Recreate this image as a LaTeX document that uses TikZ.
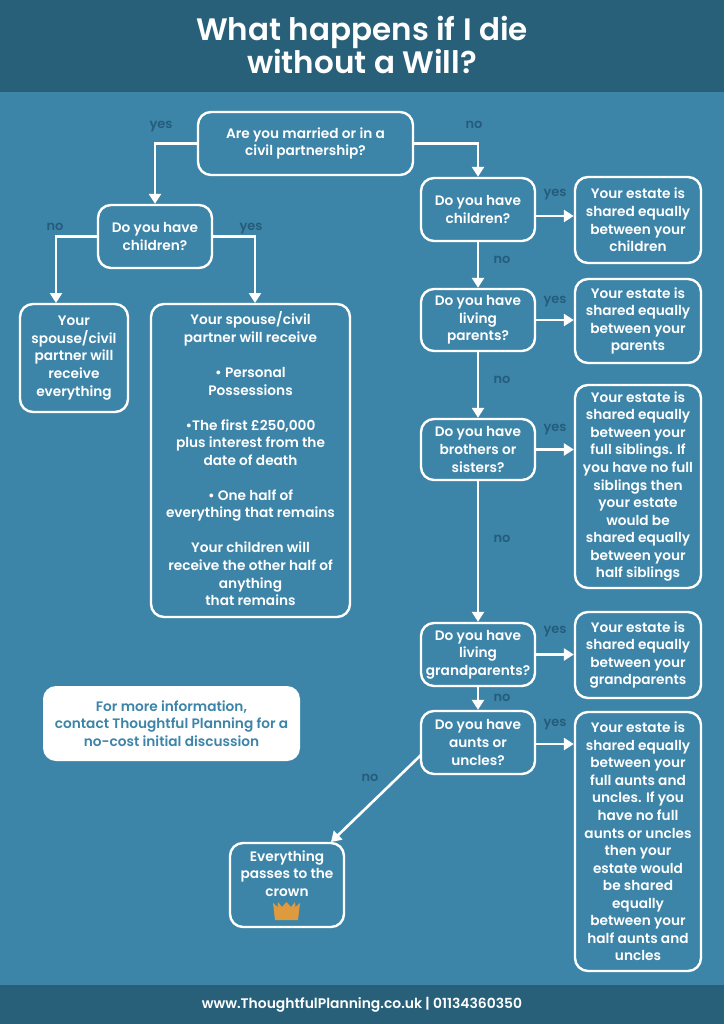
\documentclass[tikz,border=0pt]{standalone}
\usepackage{fontspec}
\setmainfont{Poppins}[BoldFont={Poppins SemiBold}]
\usetikzlibrary{arrows.meta}
\definecolor{pagebg}{HTML}{3D85A8}
\definecolor{bandbg}{HTML}{28607A}
\definecolor{lbl}{HTML}{245C7C}
\definecolor{crownc}{HTML}{DE9A3E}
\tikzset{
	qbox/.style={draw=white,line width=2.4pt,rounded corners=13pt,text=white,align=center,inner sep=0pt,
		font=\fontsize{13.7}{17.55}\selectfont\bfseries},
	lbl/.style={text=lbl,text height=9pt,text depth=3pt,font=\fontsize{13}{15}\selectfont\bfseries},
	arr/.style={white,line width=2.6pt,-{Triangle[width=12pt,length=10pt]}}
}
\begin{document}
\begin{tikzpicture}[x=1pt,y=-1pt]
	\useasboundingbox (0,0) rectangle (724,1024);
	\fill[pagebg] (0,0) rectangle (724,1024);
	\fill[bandbg] (0,0) rectangle (724,92);
	\fill[bandbg] (0,985) rectangle (724,1024);
	
	\node[text=white,align=center,font=\fontsize{31}{33}\selectfont\bfseries] (title) at (362,45) {What happens if I die\\without a Will?};
	\node[text=white,font=\fontsize{13.9}{15}\selectfont\bfseries] (web) at (362,1005) {www.ThoughtfulPlanning.co.uk | 01134360350};
	
	% left side
	\node[qbox,minimum width=215pt,minimum height=63pt] (married) at (305.5,143.5) {Are you married or in a\\civil partnership?};
	\node[qbox,minimum width=114pt,minimum height=63pt] (childl) at (155,236.5) {Do you have\\children?};
	\node[qbox,minimum width=108pt,minimum height=108pt] (spouse) at (74,358) {Your\\spouse/civil\\partner will\\receive\\everything};
	\node[qbox,minimum width=199pt,minimum height=313pt] (share) at (250.5,460.5) {Your spouse/civil\\partner will receive\\[17.55pt]• Personal\\Possessions\\[17.55pt]•The first £250,000\\plus interest from the\\date of death\\[17.55pt]• One half of\\everything that remains\\[17.55pt]Your children will\\receive the other half of\\anything\\that remains\\[-14pt]\mbox{}};
	\node[fill=white,rounded corners=13pt,minimum width=257pt,minimum height=75pt,text=pagebg,align=center,inner sep=0pt,font=\fontsize{13.7}{17.55}\selectfont\bfseries] (info) at (171.5,723.5) {For more information,\\contact Thoughtful Planning for a\\no-cost initial discussion};
	\node[qbox,minimum width=114pt,minimum height=84pt] (crown) at (287,885) {Everything\\passes to the\\crown\\[6pt]\mbox{}};
	\fill[crownc] (275,920) -- (273,903) -- (277.5,907) -- (278,902) -- (282,907) -- (286.5,902) -- (291,907) -- (295,902) -- (295.5,907) -- (300,903) -- (298,920) -- cycle;
	
	% right side, questions
	\node[qbox,minimum width=114pt,minimum height=63pt] (qchild) at (478,209.5) {Do you have\\children?};
	\node[qbox,minimum width=114pt,minimum height=62pt] (qpar) at (478,320) {Do you have\\living\\parents?};
	\node[qbox,minimum width=114pt,minimum height=61pt] (qbro) at (478,449.5) {Do you have\\brothers or\\sisters?};
	\node[qbox,minimum width=114pt,minimum height=63pt] (qgrand) at (478,654.5) {Do you have\\living\\grandparents?};
	\node[qbox,minimum width=114pt,minimum height=63pt] (qaunt) at (478,742.5) {Do you have\\aunts or\\uncles?};
	
	% right side, answers
	\node[qbox,minimum width=126pt,minimum height=86pt] (achild) at (638,220) {Your estate is\\shared equally\\between your\\children};
	\node[qbox,minimum width=126pt,minimum height=84pt] (apar) at (638,321) {Your estate is\\shared equally\\between your\\parents};
	\node[qbox,minimum width=126pt,minimum height=203pt] (abro) at (638,486.5) {Your estate is\\shared equally\\between your\\full siblings. If\\you have no full\\siblings then\\your estate\\would be\\shared equally\\between your\\half siblings};
	\node[qbox,minimum width=126pt,minimum height=86pt] (agrand) at (638,655) {Your estate is\\shared equally\\between your\\grandparents};
	\node[qbox,minimum width=126pt,minimum height=259pt] (aaunt) at (638,841.5) {Your estate is\\shared equally\\between your\\full aunts and\\uncles. If you\\have no full\\aunts or uncles\\then your\\estate would\\be shared\\equally\\between your\\half aunts and\\uncles};
	
	% free ends of the connectors
	\coordinate (spousetop) at (56,303);
	\coordinate (sharetop) at (255,303);
	\coordinate (auntout) at (421,755);
	\coordinate (crownin) at (331,842);
	\coordinate (qchildout) at (535,216);
	\coordinate (qauntout) at (535,744);
	
	\draw[arr] (married.west) -| (childl.north);
	\draw[arr] (married.east) -| (qchild.north);
	\draw[arr] (childl.west) -| (spousetop);
	\draw[arr] (childl.east) -| (sharetop);
	\draw[arr] (qchild) -- (qpar);
	\draw[arr] (qpar) -- (qbro);
	\draw[arr] (qbro) -- (qgrand);
	\draw[arr] (qgrand) -- (qaunt);
	\draw[arr] (qchildout) -- (achild.west |- qchildout);
	\draw[arr] (qpar.east) -- (apar.west |- qpar.east);
	\draw[arr] (qbro.east) -- (abro.west |- qbro.east);
	\draw[arr] (qgrand.east) -- (agrand.west |- qgrand.east);
	\draw[arr] (qauntout) -- (aaunt.west |- qauntout);
	\draw[arr] (auntout) -- (crownin);
	
	\node[lbl] (l1) at (161,126) {yes};
	\node[lbl] (l2) at (474,126) {no};
	\node[lbl] (l3) at (55,228) {no};
	\node[lbl] (l4) at (251,228) {yes};
	\node[lbl] (l5) at (555,194) {yes};
	\node[lbl] (l6) at (502,260) {no};
	\node[lbl] (l7) at (555,300) {yes};
	\node[lbl] (l8) at (502,380) {no};
	\node[lbl] (l9) at (555,428) {yes};
	\node[lbl] (l10) at (502,539) {no};
	\node[lbl] (l11) at (555,630) {yes};
	\node[lbl] (l12) at (502,698) {no};
	\node[lbl] (l13) at (555,723) {yes};
	\node[lbl] (l14) at (370,778) {no};
\end{tikzpicture}
\end{document}
